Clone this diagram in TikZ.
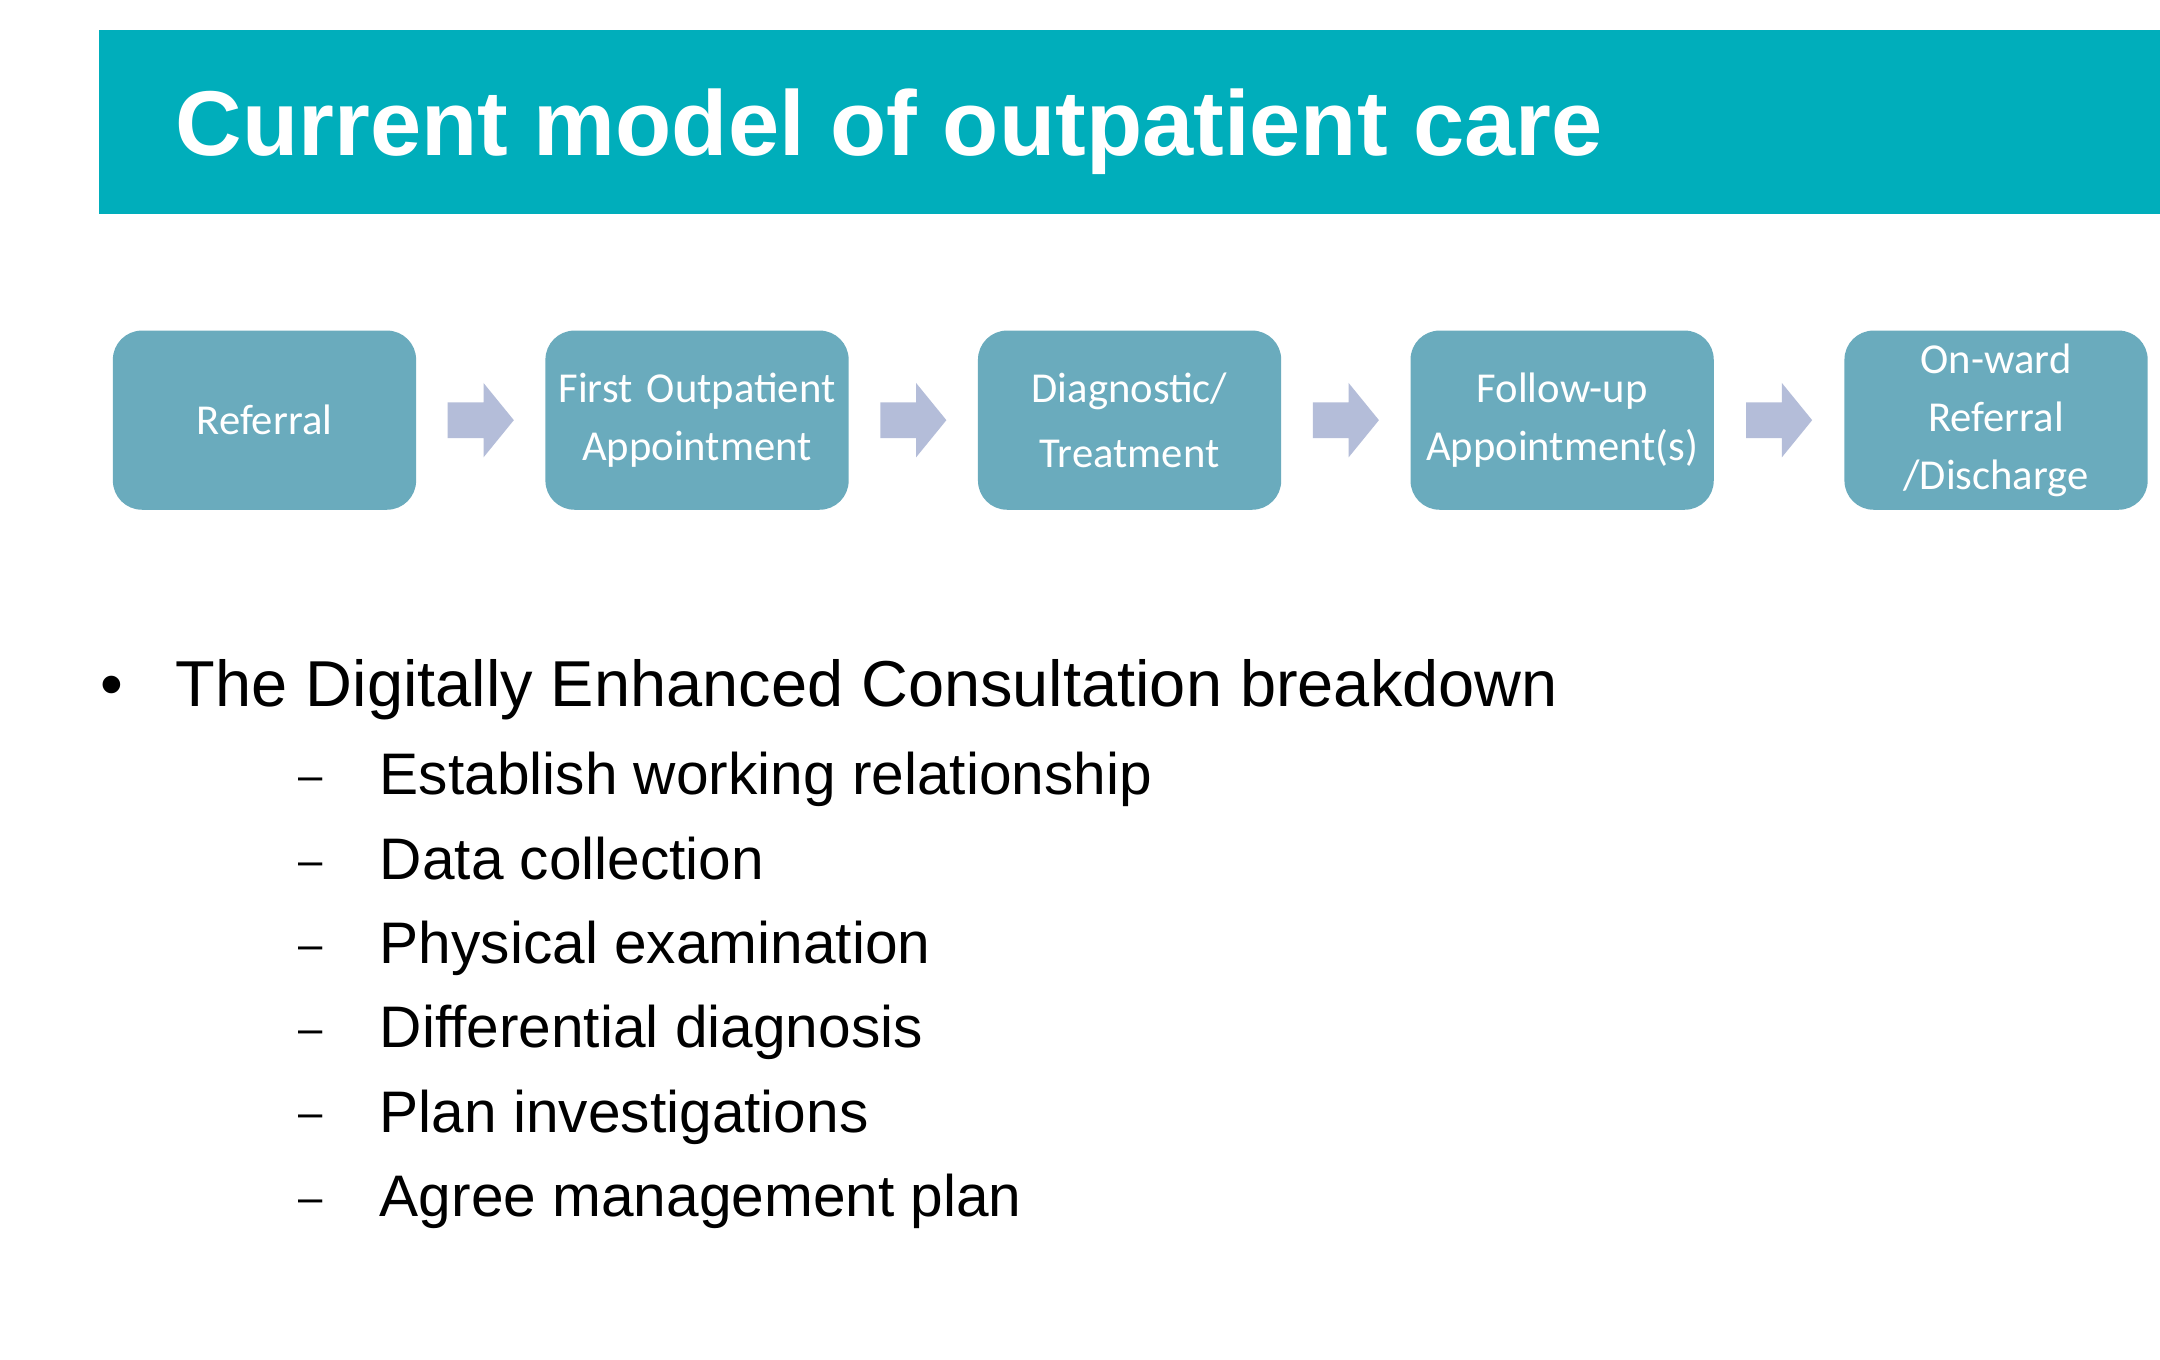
\documentclass[tikz,border=0pt]{standalone}
\usepackage{fontspec}
\setmainfont{Liberation Sans}
\newfontfamily\boxfont{Carlito}
\usetikzlibrary{calc}
\definecolor{teal1}{HTML}{00AEBB}
\definecolor{boxblue}{HTML}{6AABBD}
\definecolor{arrowgrey}{HTML}{B4BDD9}
\tikzset{
	stepbox/.style={draw=none, fill=boxblue, rounded corners=6pt, minimum width=2.2cm, minimum height=1.3cm, text width=2.1cm, inner sep=0pt, text=white, align=center, font=\boxfont\fontsize{8.8}{12}\selectfont},
	subitem/.style={anchor=base west, font=\fontsize{12.1}{14}\selectfont}
}
\begin{document}
\begin{tikzpicture}[x=0.01cm, y=-0.01cm]
	\useasboundingbox[fill=white] (0,0) rectangle (1568,987);
	%header
	\fill[teal1] (72,22) rectangle (1568,155);
	\node[anchor=base west, inner sep=0pt, text=white, font=\bfseries\fontsize{19}{22}\selectfont] (title) at (127,113) {Current model of outpatient care};
	%flow
	\node[stepbox] (ref) at (192,305) {Referral};
	\node[stepbox] (first) at (506,305) {First Outpatient\\Appointment};
	\node[stepbox, font=\boxfont\fontsize{8.8}{13.5}\selectfont] (diag) at (820,305) {Diagnostic/\\Treatment};
	\node[stepbox] (follow) at (1134,305) {Follow-up\\Appointment(s)};
	\node[stepbox] (onward) at (1449,305) {On-ward\\Referral\\/Discharge};
	\foreach \a/\b [count=\i] in {ref/first,first/diag,diag/follow,follow/onward}{
		\coordinate (arr\i) at ($(\a.east)!0.5!(\b.west)$);
		\fill[arrowgrey] (arr\i) ++(-24,-13) -- ++(26,0) -- ++(0,-14) -- ++(22,27) -- ++(-22,27) -- ++(0,-14) -- ++(-26,0) -- cycle;
	}
	%bullets
	\node[anchor=base west, inner sep=0pt, font=\fontsize{13.4}{16}\selectfont] (bul) at (72,513) {\textbullet};
	\node[anchor=base west, inner sep=0pt, font=\fontsize{13.4}{16}\selectfont] (head) at (127,513) {The Digitally Enhanced Consultation breakdown};
	\foreach \t [count=\i] in {Establish working relationship,Data collection,Physical examination,Differential diagnosis,Plan investigations,Agree management plan}{
		\node[subitem, inner sep=0pt, font=\fontsize{9}{14}\selectfont] (dash\i) at (216,574+61.2*\i-61.2) {--};
		\node[subitem, inner sep=0pt] (item\i) at (275,577+61.2*\i-61.2) {\t};
	}
\end{tikzpicture}
\end{document}
